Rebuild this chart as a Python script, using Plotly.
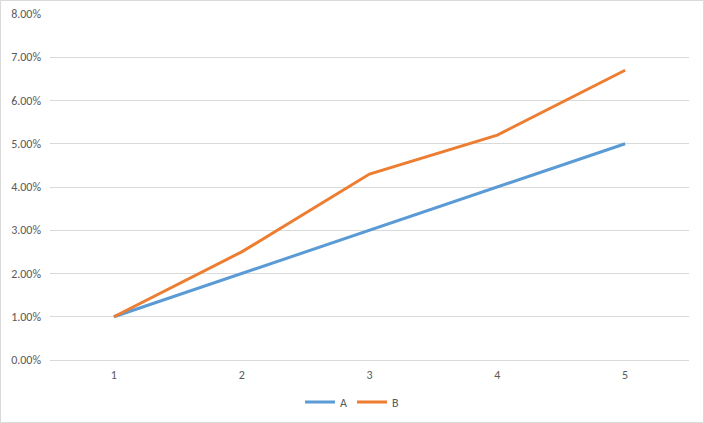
import plotly.graph_objects as go

categories = ["1", "2", "3", "4", "5"]
series_a = [0.01, 0.02, 0.03, 0.04, 0.05]
series_b = [0.01, 0.025, 0.043, 0.052, 0.067]
y_ticks = [0, 0.01, 0.02, 0.03, 0.04, 0.05, 0.06, 0.07, 0.08]

W, H = 704, 423
ml, mr, mt, mb = 50, 15, 14, 63
pw, ph = W - ml - mr, H - mt - mb

fig = go.Figure()
fig.add_trace(go.Scatter(x=categories, y=series_a, name="A", mode="lines",
                         line=dict(color="#5B9BD5", width=3)))
fig.add_trace(go.Scatter(x=categories, y=series_b, name="B", mode="lines",
                         line=dict(color="#ED7D31", width=3)))

font = dict(family="Carlito, Calibri, Liberation Sans, Arial, sans-serif", size=12, color="#595959")
fig.update_layout(
    width=W, height=H,
    margin=dict(l=ml, r=mr, t=mt, b=mb, pad=0, autoexpand=False),
    plot_bgcolor="white", paper_bgcolor="white",
    font=font,
    showlegend=True,
    legend=dict(orientation="h", xref="container", yref="container",
                x=0.5, xanchor="center", y=1 - 402 / H, yanchor="middle",
                font=dict(size=12, color="#595959"), itemwidth=30,
                bgcolor="rgba(0,0,0,0)"),
    xaxis=dict(type="category", range=[-0.5, 4.5], showgrid=False, showline=False,
               ticks="", tickfont=dict(size=12, color="#595959"), ticklabelstandoff=6),
    yaxis=dict(range=[0, 0.08], tickvals=y_ticks, tickformat=".2%", gridcolor="#D9D9D9",
               gridwidth=1, zeroline=True, zerolinecolor="#D9D9D9", zerolinewidth=1,
               showline=False, ticks="", ticklabelstandoff=8),
    shapes=[dict(type="rect", xref="paper", yref="paper",
                 x0=(0.5 - ml) / pw, x1=(W - 0.5 - ml) / pw,
                 y0=-(H - 0.5 - mt - ph) / ph, y1=(ph + mt - 0.5) / ph,
                 line=dict(color="#D9D9D9", width=1), layer="below")],
)
fig.write_html("out.html", config={"displayModeBar": False},
               post_script="document.body.style.margin='0';document.body.style.overflow='hidden';")
